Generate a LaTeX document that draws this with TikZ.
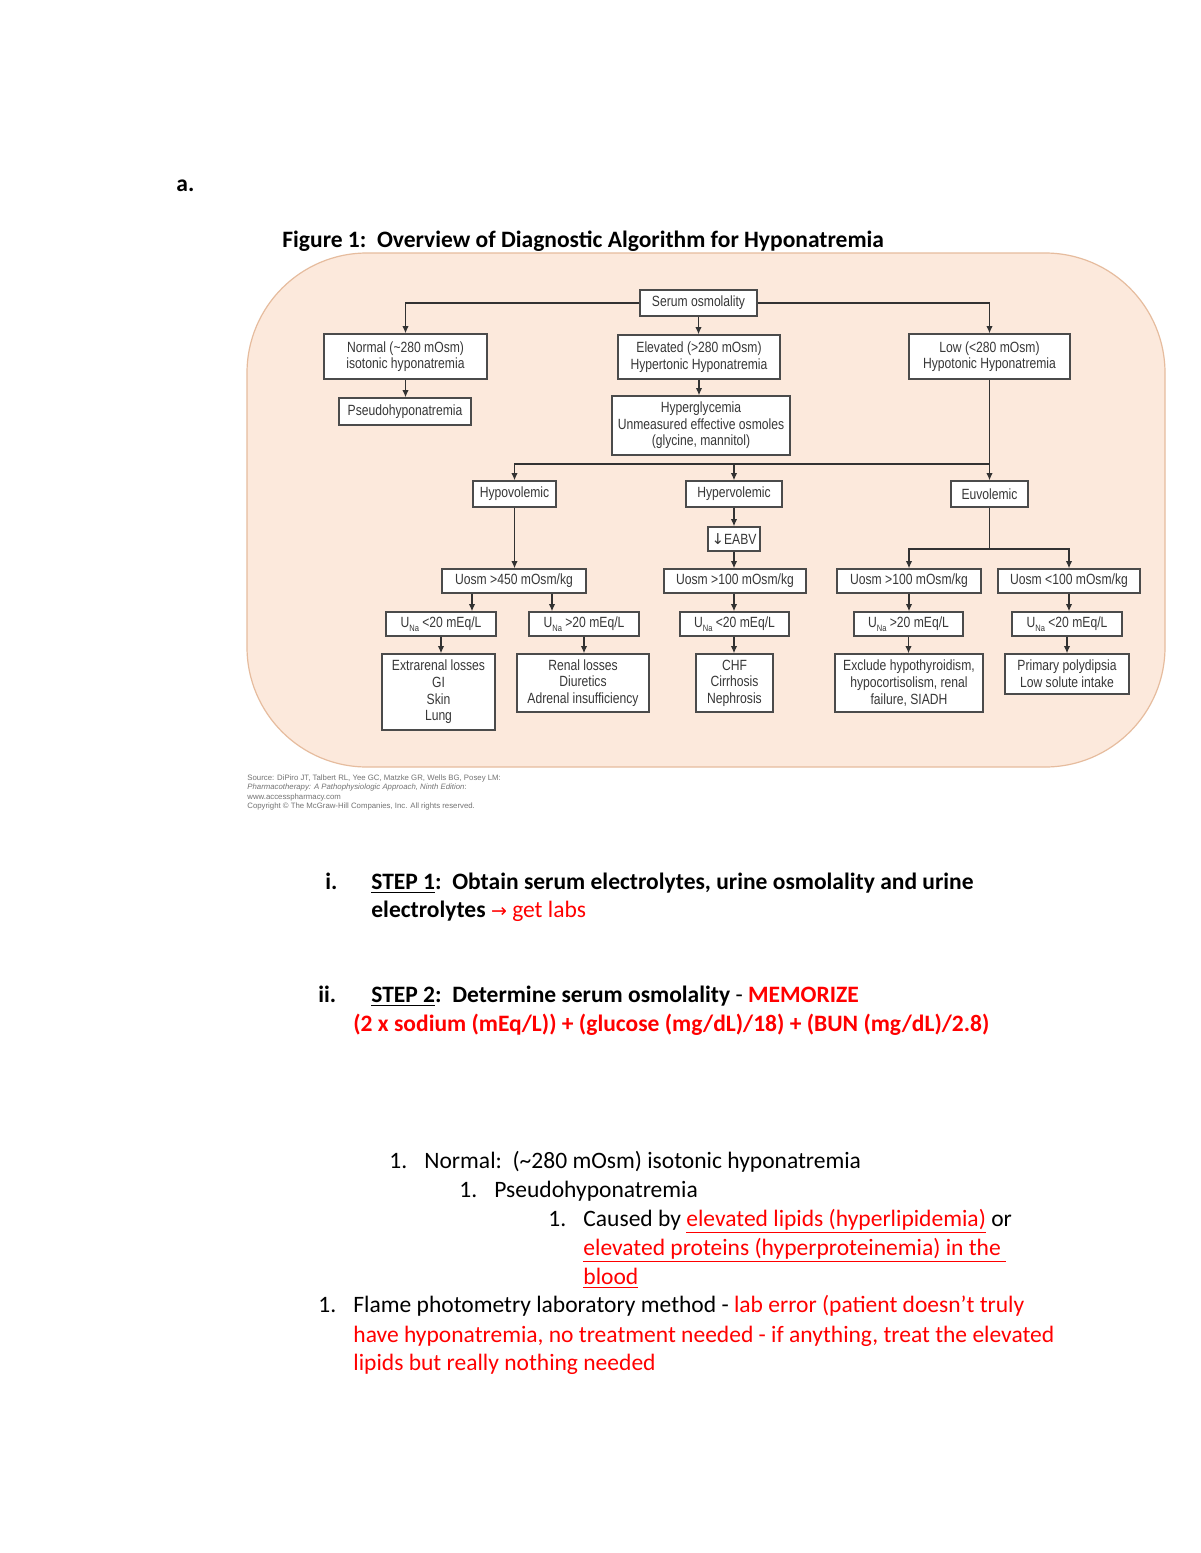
\documentclass[tikz,border=0pt]{standalone}
\usepackage{fontspec}
\setmainfont{Carlito}
\newfontfamily\dfont[FakeStretch=0.82]{Liberation Sans}
\newfontfamily\srcfont{Liberation Sans}
\newfontfamily\djv{DejaVu Sans}
\usetikzlibrary{arrows.meta}
\definecolor{wred}{RGB}{255,0,0}
\definecolor{peach}{RGB}{252,233,220}
\definecolor{peachedge}{RGB}{230,188,158}
\definecolor{boxline}{RGB}{75,75,75}
\definecolor{linecol}{RGB}{50,50,50}
\definecolor{dtext}{RGB}{55,55,55}
\newcommand\bx[6]{\node[fbox,minimum width={(#4-#2)*0.5pt},minimum height={(#5-#3)*0.5pt}] (#1) at ({(#2+#4)/2},{(#3+#5)/2}) {#6};}
\newcommand\una{U\raisebox{-0.45ex}{\fontsize{4.6}{5}\selectfont Na}}
\begin{document}
\begin{tikzpicture}[x=0.5pt,y=-0.5pt,
  fbox/.style={draw=boxline,line width=0.7pt,fill=white,inner sep=0pt,align=center,text=dtext,
    font=\dfont\fontsize{7.4}{8.3}\selectfont},
  arr/.style={draw=linecol,line width=0.6pt,-{Latex[length=3.6pt,width=3.2pt]}},
  ln/.style={draw=linecol,line width=0.6pt},
  tx/.style={inner sep=0pt,anchor=base west,font=\fontsize{11.76}{14.4}\selectfont},
  src/.style={inner sep=0pt,anchor=north west,align=left,text=black!55,font=\srcfont\fontsize{3.9}{4.75}\selectfont}]
\useasboundingbox (0,0) rectangle (1200,1553);
\fill[white] (0,0) rectangle (1200,1553);

% header
\node[tx] (la) at (176,191) {\bfseries a.};
\node[tx] (title) at (282,247) {\bfseries Figure 1:\ \ Overview of Diagnostic Algorithm for Hyponatremia};

% panel
\draw[fill=peach,draw=peachedge,line width=0.6pt,rounded corners=60pt] (247,253) rectangle (1165,767);

\bx{serum}{640}{290}{757}{316}{Serum osmolality}
\bx{normal}{324}{334}{487}{379}{Normal (\textasciitilde280 mOsm)\\isotonic hyponatremia}
\bx{elev}{618}{335}{780}{379}{Elevated (>280 mOsm)\\Hypertonic Hyponatremia}
\bx{low}{909}{334}{1070}{379}{Low (<280 mOsm)\\Hypotonic Hyponatremia}
\bx{pseudo}{339}{398}{471}{425}{Pseudohyponatremia}
\bx{hyperg}{612}{396}{790}{455}{Hyperglycemia\\Unmeasured effective osmoles\\(glycine, mannitol)}
\bx{hypo}{473}{481}{556}{507}{Hypovolemic}
\bx{hyper}{686}{481}{782}{507}{Hypervolemic}
\bx{euvo}{951}{481}{1028}{507}{Euvolemic}
\bx{eabv}{708}{527}{760}{551}{{\djv\fontsize{7.5}{8}\selectfont ↓}EABV}
\bx{uA}{442}{569}{586}{593}{Uosm >450 mOsm/kg}
\bx{uB}{664}{569}{806}{593}{Uosm >100 mOsm/kg}
\bx{uC}{837}{569}{981}{593}{Uosm >100 mOsm/kg}
\bx{uD}{998}{569}{1140}{593}{Uosm <100 mOsm/kg}
\bx{nA}{386}{612}{496}{636}{\una{} <20 mEq/L}
\bx{nB}{529}{612}{639}{636}{\una{} >20 mEq/L}
\bx{nC}{680}{612}{789}{636}{\una{} <20 mEq/L}
\bx{nD}{854}{612}{963}{636}{\una{} >20 mEq/L}
\bx{nE}{1012}{612}{1122}{636}{\una{} <20 mEq/L}
\bx{rA}{382}{654}{495}{730}{Extrarenal losses\\GI\\Skin\\Lung}
\bx{rB}{517}{654}{649}{712}{Renal losses\\Diuretics\\Adrenal insufficiency}
\bx{rC}{696}{654}{773}{712}{CHF\\Cirrhosis\\Nephrosis}
\bx{rD}{835}{654}{983}{712}{Exclude hypothyroidism,\\hypocortisolism, renal\\failure, SIADH}
\bx{rE}{1005}{654}{1129}{694}{Primary polydipsia\\Low solute intake}

\coordinate (jR) at (989.5,464);
\coordinate (jE) at (989.5,549);

\draw[arr] (serum.west) -| (normal.north);
\draw[arr] (serum.south) -- (serum.south |- elev.north);
\draw[arr] (serum.east) -| (low.north);
\draw[arr] (normal.south) -- (normal.south |- pseudo.north);
\draw[arr] (elev.south) -- (elev.south |- hyperg.north);
\draw[arr] (low.south) -- (euvo.north);
\draw[arr] (jR) -| (hypo.north);
\draw[arr] (hyper.north |- jR) -- (hyper.north);
\draw[arr] (hypo.south) -- (hypo.south |- uA.north);
\draw[arr] (uA.south -| 472,0) -- (nA.north -| 472,0);
\draw[arr] (uA.south -| 552,0) -- (nB.north -| 552,0);
\draw[arr] (nA.south) -- (nA.south |- rA.north);
\draw[arr] (nB.south) -- (nB.south |- rB.north);
\draw[arr] (hyper.south) -- (hyper.south |- eabv.north);
\draw[arr] (eabv.south) -- (eabv.south |- uB.north);
\draw[arr] (uB.south -| eabv.south) -- (eabv.south |- nC.north);
\draw[arr] (nC.south -| eabv.south) -- (eabv.south |- rC.north);
\draw[ln] (euvo.south) -- (jE);
\draw[arr] (jE) -| (uC.north);
\draw[arr] (jE) -| (uD.north);
\draw[arr] (uC.south) -- (uC.south |- nD.north);
\draw[arr] (nD.south) -- (nD.south |- rD.north);
\draw[arr] (uD.south) -- (uD.south |- nE.north);
\draw[arr] (nE.south) -- (nE.south |- rE.north);

\node[src] (source) at (247,774) {Source: DiPiro JT, Talbert RL, Yee GC, Matzke GR, Wells BG, Posey LM:\\
\textit{Pharmacotherapy: A Pathophysiologic Approach, Ninth Edition}:\\
www.accesspharmacy.com\\
Copyright \textcopyright{} The McGraw-Hill Companies, Inc. All rights reserved.};

% steps
\node[tx] (s1n) at (325,889) {\bfseries i.};
\node[tx] (s1) at (371,889) {\bfseries\underline{STEP 1}:\ \ Obtain serum electrolytes, urine osmolality and urine};
\node[tx] (s1b) at (371,917) {\bfseries electrolytes \mdseries\color{wred}{\djv\fontsize{9.5}{10}\selectfont →} get labs};
\node[tx] (s2n) at (318,1002) {\bfseries ii.};
\node[tx] (s2) at (371,1002) {\bfseries\underline{STEP 2}:\ \ Determine serum osmolality {\mdseries -} \textcolor{wred}{MEMORIZE}};
\node[tx,text=wred] (form) at (353,1031) {\bfseries (2 x sodium (mEq/L)) + (glucose (mg/dL)/18) + (BUN (mg/dL)/2.8)};

% notes
\node[tx] (l1n) at (389,1168) {1.};
\node[tx] (l1) at (424,1168) {Normal:\ \ (\textasciitilde280 mOsm) isotonic hyponatremia};
\node[tx] (l2n) at (459,1197) {1.};
\node[tx] (l2) at (494,1197) {Pseudohyponatremia};
\node[tx] (l3n) at (548,1226) {1.};
\node[tx] (l3) at (583,1226) {Caused by \textcolor{wred}{\underline{elevated lipids (hyperlipidemia)}} or};
\node[tx,text=wred] (l3b) at (583,1255) {\underline{elevated proteins (hyperproteinemia) in the\ }};
\node[tx,text=wred] (l3c) at (583,1284) {\underline{blood}};
\node[tx] (l4n) at (318,1312) {1.};
\node[tx] (l4) at (353,1312) {Flame photometry laboratory method - \textcolor{wred}{lab error (patient doesn’t truly}};
\node[tx,text=wred] (l4b) at (353,1342) {have hyponatremia, no treatment needed - if anything, treat the elevated};
\node[tx,text=wred] (l4c) at (353,1370) {lipids but really nothing needed};
\end{tikzpicture}
\end{document}
